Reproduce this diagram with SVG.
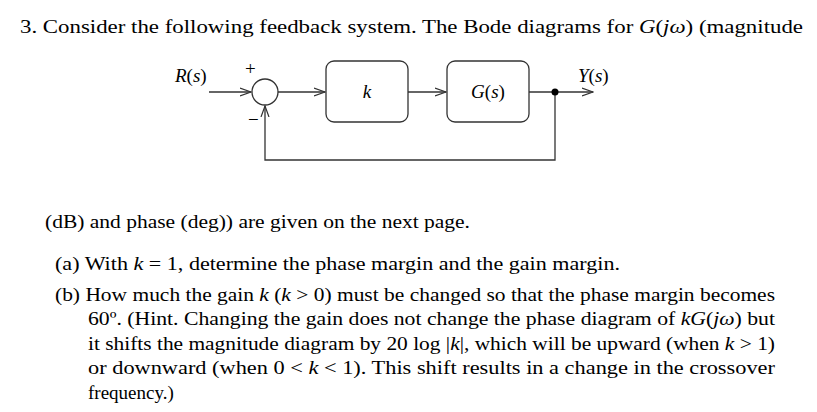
<svg xmlns="http://www.w3.org/2000/svg" width="817" height="412" viewBox="0 0 817 412">
<style>
text{font-family:"Liberation Serif",serif;font-size:19px;fill:#000}
.i{font-style:italic}
.ln{stroke:#333;stroke-width:1.3;fill:none}
.bx{stroke:#333;stroke-width:1.3;fill:#fff}
</style>
<defs><marker id="a" markerWidth="12" markerHeight="10" refX="11" refY="5" orient="auto" markerUnits="userSpaceOnUse"><path d="M0,1 L11,5 L0,9" fill="none" stroke="#333" stroke-width="1.2"/></marker></defs>
<rect width="817" height="412" fill="#fff"/>
<text x="20" y="33" textLength="783" lengthAdjust="spacingAndGlyphs">3. Consider the following feedback system. The Bode diagrams for <tspan class="i">G</tspan>(<tspan class="i">jω</tspan>) (magnitude</text>
<g id="connectors">
<path class="ln" d="M209,92 H251" marker-end="url(#a)"/>
<path class="ln" d="M278,92 H325" marker-end="url(#a)"/>
<path class="ln" d="M408,92 H446" marker-end="url(#a)"/>
<path class="ln" d="M529,92 H593" marker-end="url(#a)"/>
<path class="ln" d="M555,92 V160 H265 V106" marker-end="url(#a)"/>
<circle cx="555" cy="92" r="3.5" fill="#000"/>
</g>
<g id="sum"><circle cx="265" cy="92" r="13" class="bx"/></g>
<g id="k"><rect x="326" y="61" width="82" height="61" rx="8" class="bx"/><text x="367" y="98" text-anchor="middle" class="i" font-size="17">k</text></g>
<g id="G"><rect x="447" y="61" width="82" height="61" rx="8" class="bx"/><text x="488" y="98" text-anchor="middle" font-size="17"><tspan class="i">G</tspan>(<tspan class="i">s</tspan>)</text></g>
<text x="175" y="82" font-size="17"><tspan class="i">R</tspan>(<tspan class="i">s</tspan>)</text>
<text x="245" y="75" font-size="17">+</text>
<text x="248" y="126" font-size="17">−</text>
<text x="578" y="82" font-size="17"><tspan class="i">Y</tspan>(<tspan class="i">s</tspan>)</text>
<text x="45" y="228" textLength="425" lengthAdjust="spacingAndGlyphs">(dB) and phase (deg)) are given on the next page.</text>
<text x="55" y="270" textLength="565" lengthAdjust="spacingAndGlyphs">(a) With <tspan class="i">k</tspan> = 1, determine the phase margin and the gain margin.</text>
<text x="55" y="301" textLength="720" lengthAdjust="spacingAndGlyphs">(b) How much the gain <tspan class="i">k</tspan>  (<tspan class="i">k</tspan> &gt; 0) must be changed so that the phase margin becomes</text>
<text x="88" y="325" textLength="687" lengthAdjust="spacingAndGlyphs">60º. (Hint. Changing the gain does not change the phase diagram of <tspan class="i">kG</tspan>(<tspan class="i">jω</tspan>) but</text>
<text x="88" y="350" textLength="687" lengthAdjust="spacingAndGlyphs">it shifts the magnitude diagram by 20 log |<tspan class="i">k</tspan>|, which will be upward (when <tspan class="i">k</tspan> &gt; 1)</text>
<text x="88" y="374" textLength="687" lengthAdjust="spacingAndGlyphs">or downward (when 0 &lt; <tspan class="i">k</tspan> &lt; 1). This shift results in a change in the crossover</text>
<text x="88" y="399">frequency.)</text>
</svg>
